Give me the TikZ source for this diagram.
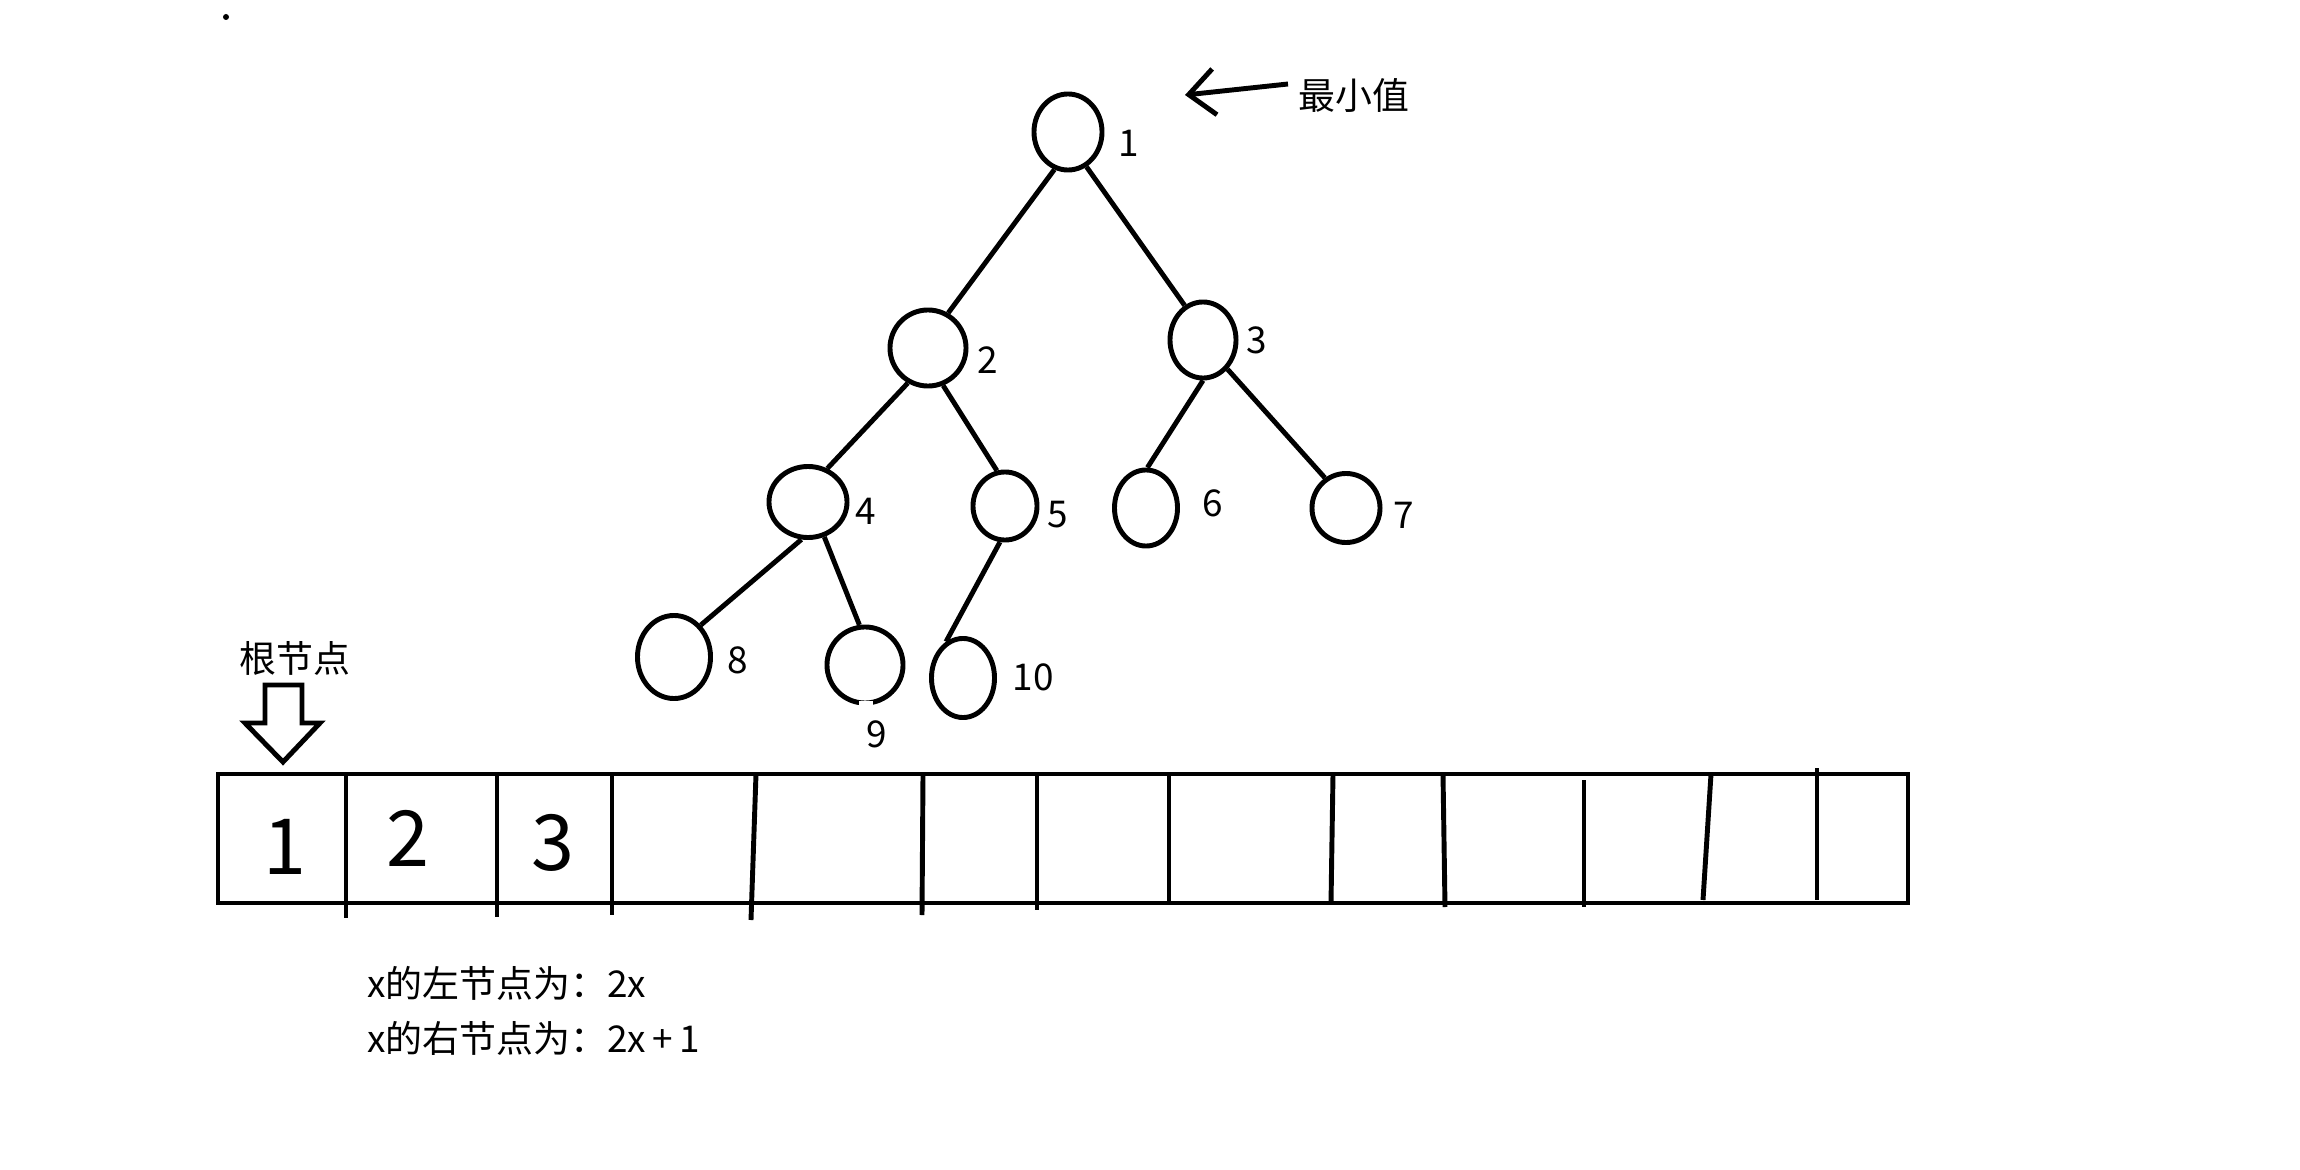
\documentclass[tikz,border=0pt]{standalone}
\usepackage{fontspec}
\setmainfont{Noto Sans CJK SC}
\usetikzlibrary{shapes.geometric,arrows.meta}
\tikzset{
  heapnode/.style={draw, ellipse, inner sep=0pt},
  idx/.style={inner sep=0pt, font=\fontsize{10.5}{12}\selectfont},
  cell/.style={inner sep=0pt, font=\fontsize{22}{24}\selectfont},
}
\begin{document}
\begin{tikzpicture}[x=0.01cm,y=-0.01cm,line width=1.4pt]
\useasboundingbox (0,0) rectangle (2300,1170);

\fill (226,17) circle (0.03cm);

\node[heapnode,minimum width=0.68cm,minimum height=0.76cm] (n1) at (1068,132) {};
\node[heapnode,minimum width=0.76cm,minimum height=0.76cm] (n2) at (928,348) {};
\node[heapnode,minimum width=0.66cm,minimum height=0.76cm] (n3) at (1203,340) {};
\node[heapnode,minimum width=0.78cm,minimum height=0.71cm] (n4) at (808,502) {};
\node[heapnode,minimum width=0.64cm,minimum height=0.68cm] (n5) at (1005,506) {};
\node[heapnode,minimum width=0.63cm,minimum height=0.76cm] (n6) at (1146,508) {};
\node[heapnode,minimum width=0.68cm,minimum height=0.69cm] (n7) at (1346,508) {};
\node[heapnode,minimum width=0.73cm,minimum height=0.83cm] (n8) at (674,657) {};
\node[heapnode,minimum width=0.76cm,minimum height=0.76cm] (n9) at (865,665) {};
\node[heapnode,minimum width=0.63cm,minimum height=0.79cm] (n10) at (963,678) {};
\draw[white,line width=2.5pt] ([xshift=-0.06cm]n9.south) -- ([xshift=0.08cm]n9.south);

\node[idx] (l1) at (1129,143) {1};
\node[idx] (l2) at (988,360) {2};
\node[idx] (l3) at (1257,340) {3};
\node[idx] (l4) at (866,511) {4};
\node[idx] (l5) at (1058,515) {5};
\node[idx] (l6) at (1213,503) {6};
\node[idx] (l7) at (1404,515) {7};
\node[idx] (l8) at (738,660) {8};
\node[idx] (l9) at (877,734) {9};
\node[idx] (l10) at (1033,677) {10};

\draw (n1.-110) -- (n2.60);
\draw (n1.-62) -- (n3.118);
\draw (n2.-120) -- (n4.60);
\draw (n2.-68) -- (n5.103);
\draw (n3.-90) -- (n6.88);
\draw (n3.-50) -- (n7.125);
\draw (n4.-100) -- (n8.50);
\draw (n4.-65) -- (n9.98);
\draw (n5.-98) -- (n10.115);

\node[idx,anchor=west] (minval) at (1296,95) {最小值};
\coordinate (mintip) at (1185,95);
\draw[-{Straight Barb[length=0.26cm,width=0.46cm]}] ([xshift=-0.08cm,yshift=0.11cm]minval.west) -- (mintip);

\node[idx] (rootlbl) at (295,658) {根节点};
\draw (265,685) -- (302,685) -- (302,723) -- (320,723) -- (283,762) -- (245,723) -- (265,723) -- cycle;

\draw (218,774) rectangle (1908,903);
\foreach \xa/\xb/\ya/\yb in {346/346/774/918, 497/497/774/917, 612/612/774/915, 756/751/774/920,
  923/922/774/915, 1037/1037/774/910, 1169/1169/774/903, 1333/1331/774/903, 1443/1445/774/907,
  1584/1584/780/907, 1711/1703/774/900, 1817/1817/768/900}
  \draw (\xa,\ya) -- (\xb,\yb);

\node[cell] (c1) at (285,847) {1};
\node[cell] (c2) at (408,838) {2};
\node[cell] (c3) at (553,843) {3};

\node[idx,anchor=west] (leftrule) at (365,983) {x的左节点为：2x};
\node[idx,anchor=west] (rightrule) at (365,1038) {x的右节点为：2x\,+\,1};

\end{tikzpicture}
\end{document}
